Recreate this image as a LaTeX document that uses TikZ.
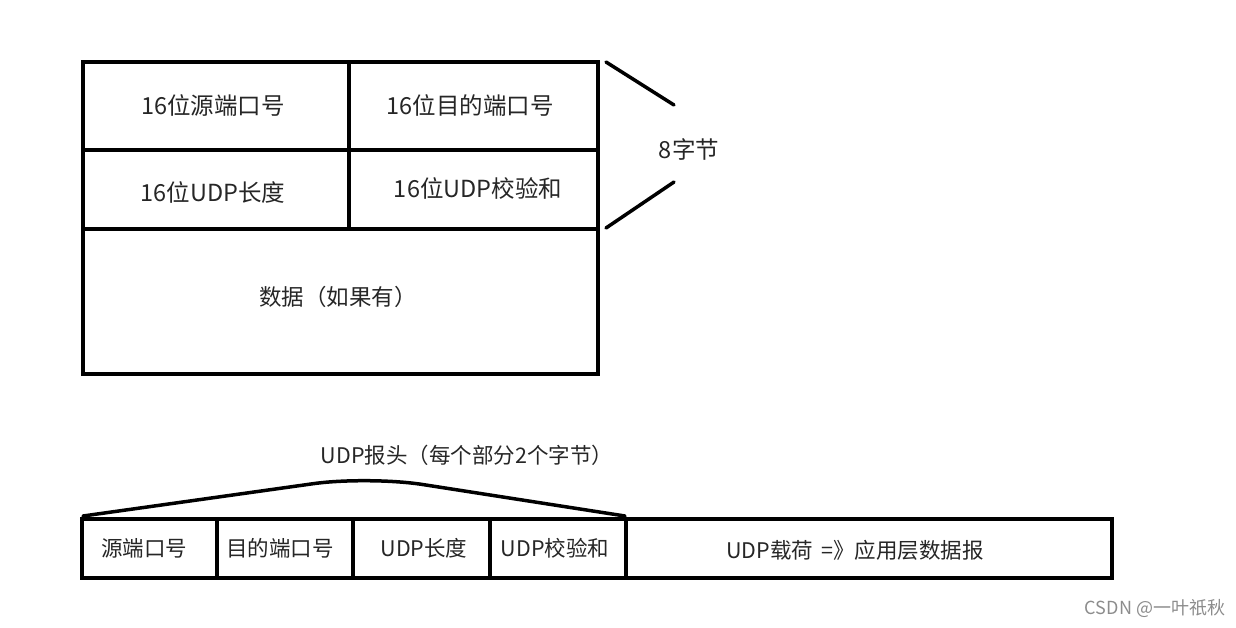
\documentclass[tikz,border=0pt]{standalone}
\usepackage{fontspec}
\setmainfont{Noto Sans CJK SC}
\begin{document}
\begin{tikzpicture}[x=1pt,y=-1pt,
  box/.style={draw=black,line width=3.5pt},
  brk/.style={draw=black,line width=3.5pt,line cap=round},
  lbl/.style={font=\fontsize{23.5}{27}\selectfont,text=black!85,inner sep=0pt},
  slbl/.style={font=\fontsize{21.5}{25}\selectfont,text=black!85,inner sep=0pt}]
\useasboundingbox (0,0) rectangle (1236,627);
% top structure
\coordinate (tl) at (83,62);
\coordinate (br) at (598,374);
\draw[box] (tl) rectangle (br);
\coordinate (r1l) at (83,150); \coordinate (r1r) at (598,150);
\coordinate (r2l) at (83,229); \coordinate (r2r) at (598,229);
\coordinate (vt) at (349,62); \coordinate (vb) at (349,231);
\draw[box] (r1l) -- (r1r);
\draw[box] (r2l) -- (r2r);
\draw[box] (vt) -- (vb);
\node[lbl] (src) at (213,106) {16位源端口号};
\node[lbl] (dst) at (470,106) {16位目的端口号};
\node[lbl] (len) at (213,192) {16位UDP长度};
\node[lbl] (chk) at (478,188) {16位UDP校验和};
\node[lbl,font=\fontsize{22.5}{26}\selectfont] (data) at (338,297) {数据（如果有）};
% 8 bytes bracket
\node[lbl] (eight) at (689,149) {8字节};
\coordinate (b1a) at (606,62); \coordinate (b1b) at (674,105);
\coordinate (b2a) at (606,228); \coordinate (b2b) at (674,182);
\draw[brk] (b1a) -- (b1b);
\draw[brk] (b2a) -- (b2b);
% bottom bar
\coordinate (bl) at (82,519);
\coordinate (bbr) at (1112,578);
\draw[box] (bl) rectangle (bbr);
\foreach \x/\n in {217/d1,353/d2,490/d3,626/d4}{
  \coordinate (\n t) at (\x,519); \coordinate (\n b) at (\x,578);
  \draw[box] (\n t) -- (\n b);
}
\node[slbl] (bsrc) at (144,548) {源端口号};
\node[slbl] (bdst) at (280,548) {目的端口号};
\node[slbl] (blen) at (424,548) {UDP长度};
\node[slbl] (bchk) at (555,548) {UDP校验和};
\node[slbl] (bpay) at (855,550) {UDP载荷 \,=》应用层数据报};
% header brace curve
\node[slbl] (hdr) at (467,455) {UDP报头（每个部分2个字节）};
\coordinate (cL) at (83,516);
\coordinate (cP) at (368,476);
\coordinate (cR) at (625,516);
\draw[brk,rounded corners=55pt] (cL) -- (cP) -- (cR);
% watermark
\node[font=\fontsize{18}{21}\selectfont,text=black!45,inner sep=0pt] (wm) at (1155,608) {CSDN @一叶祇秋};
\end{tikzpicture}
\end{document}
